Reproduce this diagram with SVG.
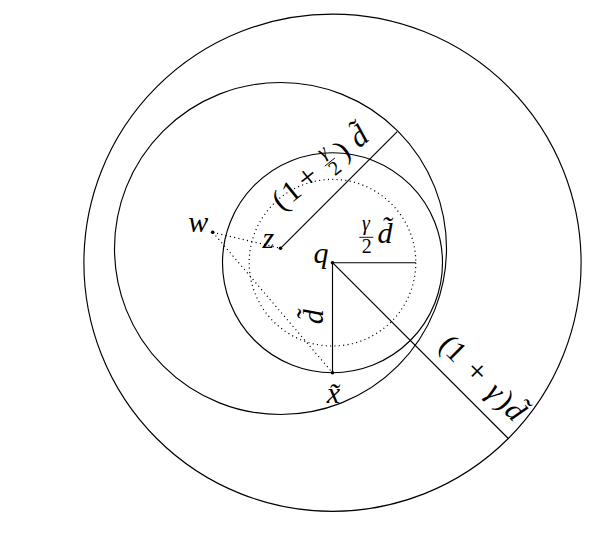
<svg xmlns="http://www.w3.org/2000/svg" width="595" height="533" viewBox="0 0 595 533">
<style>
.c{fill:none;stroke:#000;stroke-width:1.15}
.dot{fill:none;stroke:#000;stroke-width:1.2;stroke-dasharray:1.1 3.3}
.ln{stroke:#000;stroke-width:1.15}
.bar{stroke:#000;stroke-width:0.9}
.pt{fill:#000}
text{font-family:"Liberation Serif","Times New Roman",serif;font-size:30px;fill:#000;text-anchor:middle}
.it{font-style:italic}
.sm{font-size:20px}
</style>
<rect width="595" height="533" fill="#fff"/>
<g id="circles">
<circle class="c" cx="332.5" cy="262.7" r="248.6"/>
<circle class="c" cx="280.5" cy="248.5" r="166"/>
<circle class="c" cx="332.5" cy="262.7" r="110"/>
<circle class="dot" cx="332.5" cy="262.7" r="83.3"/>
</g>
<g id="connectors">
<line class="ln" x1="280.5" y1="248.3" x2="397.2" y2="131.6"/>
<line class="ln" x1="332.5" y1="262.7" x2="508.3" y2="438.5"/>
<line class="ln" x1="332.5" y1="262.7" x2="415.8" y2="262.7"/>
<line class="ln" x1="332.5" y1="262.7" x2="332.5" y2="372.7"/>
<line class="dot" x1="212.7" y1="232.3" x2="280.5" y2="248.3"/>
<line class="dot" x1="212.7" y1="232.3" x2="332.5" y2="372.7"/>
</g>
<g id="node-w">
<circle class="pt" cx="212.7" cy="232.3" r="1.8"/>
<text class="it" x="198.3" y="231.7">w</text>
</g>
<g id="node-z">
<circle class="pt" cx="280.5" cy="248.3" r="1.8"/>
<text class="it" x="268.3" y="248.3">z</text>
</g>
<g id="node-q">
<circle class="pt" cx="332.5" cy="262.7" r="1.8"/>
<text class="it" x="321" y="263">q</text>
</g>
<g id="node-xt">
<circle class="pt" cx="332.5" cy="372.7" r="1.8"/>
<text class="it" x="333.3" y="403.3">x̃</text>
</g>
<g id="label-d">
<text class="it" transform="translate(323.3,316.7) rotate(-90)" x="0" y="0">d̃</text>
</g>
<g id="label-half">
<text class="it sm" x="366" y="230">γ</text>
<line class="bar" x1="359.3" y1="237.3" x2="373.3" y2="237.3"/>
<text class="sm" x="366.7" y="252.7">2</text>
<text class="it" x="385" y="242.7">d̃</text>
</g>
<g id="label-mid">
<g transform="translate(283.7,209.1) rotate(-39)">
<text><tspan x="1.9" y="0.6">(</tspan><tspan x="17.1" y="0.6">1</tspan><tspan x="38.5" y="0.6" style="font-size:32px">+</tspan></text>
<text class="it sm" x="66.1" y="-13.8">γ</text>
<line class="bar" x1="59" y1="-7.5" x2="72" y2="-7.5"/>
<text class="sm" x="65.5" y="6.6">2</text>
<text><tspan x="82.7" y="0.6">)</tspan><tspan class="it" x="104" y="0.6">d̃</tspan></text>
</g>
</g>
<g id="label-big">
<text transform="translate(332.5,262.7) rotate(45)"><tspan x="138.9" y="-15">(</tspan><tspan x="150.7" y="-15">1</tspan><tspan x="178.9" y="-15" style="font-size:32px">+</tspan><tspan class="it" x="206.1" y="-15">γ</tspan><tspan x="220" y="-15">)</tspan><tspan class="it" x="234" y="-15">d̃</tspan></text>
</g>
</svg>
